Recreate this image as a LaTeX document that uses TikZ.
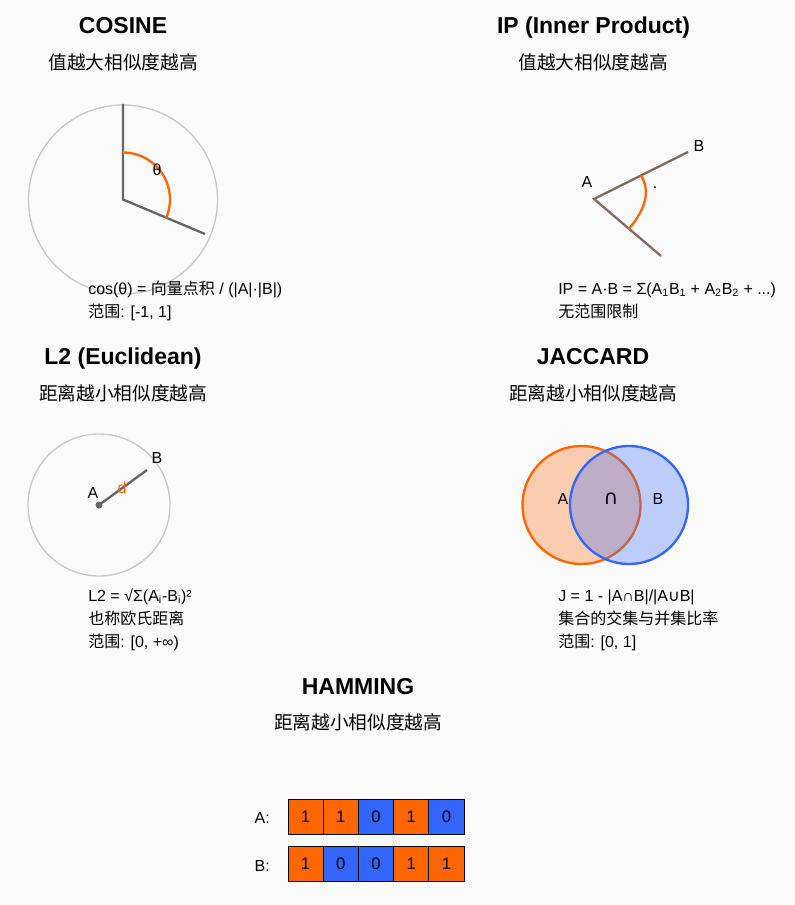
\documentclass[tikz,border=0pt]{standalone}
\usepackage{fontspec}
\setmainfont{Liberation Sans}
\newfontfamily\cjk{Noto Sans CJK SC}
\newfontfamily\symf{DejaVu Sans}
\definecolor{bgc}{RGB}{250,250,250}
\definecolor{orng}{RGB}{255,102,0}
\definecolor{blu}{RGB}{51,102,255}
\definecolor{vecgray}{RGB}{102,102,102}
\definecolor{ipvec}{RGB}{128,110,100}
\definecolor{ringgray}{RGB}{200,200,200}
\begin{document}
\begin{tikzpicture}[x=0.75pt,y=-0.75pt,every node/.style={inner sep=0pt},
	title/.style={font=\fontsize{17.25}{20}\selectfont\bfseries,anchor=base},
	subtitle/.style={font=\fontsize{14}{16}\cjk,anchor=base},
	body/.style={font=\fontsize{12}{14}\selectfont,anchor=base west},
	lbl/.style={font=\fontsize{12}{14}\selectfont},
	ring/.style={draw=ringgray,line width=1pt},
	vec/.style={draw=vecgray,line width=1.75pt},
	ang/.style={draw=orng,line width=1.75pt},
	cell/.style={draw=black,line width=0.6pt,minimum width=26.4pt,minimum height=26.25pt,font=\fontsize{12.5}{14}\selectfont}]
	\fill[bgc] (0,0) rectangle (794,905);
	\useasboundingbox (0,0) rectangle (794,905);
	% COSINE
	\node[title] (cosT) at (123,34){COSINE};
	\node[subtitle] (cosS) at (123,70){值越大相似度越高};
	\coordinate (cosO) at (123,199.5);
	\coordinate (cosA) at (123,104);
	\coordinate (cosB) at (205,234);
	\coordinate (cosArc) at (123,152.5);
	\draw[ring] (cosO) circle[radius=94.5];
	\draw[vec] (cosA)--(cosO)--(cosB);
	\draw[ang] (cosArc) arc[start angle=-90,end angle=23.1,radius=47];
	\node[lbl] (theta) at (157,170){θ};
	\node[body] (cosF1) at (88,294){cos(θ) = {\cjk 向量点积} / (|A|·|B|)};
	\node[body] (cosF2) at (88,317){{\cjk 范围}: [-1, 1]};
	% IP
	\node[title] (ipT) at (593.5,34){IP (Inner Product)};
	\node[subtitle] (ipS) at (593,70){值越大相似度越高};
	\coordinate (ipO) at (594,199);
	\coordinate (ipB) at (688,152);
	\coordinate (ipC) at (661,256);
	\coordinate (ipArcS) at (641,175.5);
	\coordinate (ipArcE) at (629,228.8);
	\draw[vec,draw=ipvec] (ipB)--(ipO)--(ipC);
	\draw[ang] (ipArcS) .. controls (650.3,190.5) and (646.3,208.3) .. (ipArcE);
	\node[lbl] (ipLA) at (587,182){A};
	\node[lbl] (ipLB) at (699,146){B};
	\node[lbl] (ipDot) at (655,188){.};
	\node[body] (ipF1) at (558,294){IP = A·B = Σ(A\textsubscript{1}B\textsubscript{1} + A\textsubscript{2}B\textsubscript{2} + ...)};
	\node[body] (ipF2) at (558,317){\cjk 无范围限制};
	% L2
	\node[title] (l2T) at (123,364){L2 (Euclidean)};
	\node[subtitle] (l2S) at (123,400){距离越小相似度越高};
	\coordinate (l2O) at (99,505);
	\coordinate (l2B) at (147,470);
	\draw[ring] (l2O) circle[radius=71];
	\draw[vec] (l2O)--(l2B);
	\fill[vecgray] (l2O) circle[radius=3.5];
	\node[lbl] (l2LA) at (93,493){A};
	\node[lbl] (l2LB) at (157,458){B};
	\node[lbl,text=orng] (l2d) at (122,488){d};
	\node[body] (l2F1) at (88,601){L2 = √Σ(A\textsubscript{i}-B\textsubscript{i})²};
	\node[body] (l2F2) at (88,624){\cjk 也称欧氏距离};
	\node[body] (l2F3) at (88,647){{\cjk 范围}: [0, +∞)};
	% JACCARD
	\node[title] (jacT) at (593,364){JACCARD};
	\node[subtitle] (jacS) at (593,400){距离越小相似度越高};
	\coordinate (jacA) at (581.5,505);
	\coordinate (jacB) at (629,505);
	\draw[orng,fill=orng,fill opacity=0.3,line width=1.75pt] (jacA) circle[radius=59];
	\draw[blu,fill=blu,fill opacity=0.3,line width=1.75pt] (jacB) circle[radius=59];
	\node[lbl] (jacLA) at (563,499){A};
	\node[lbl,font=\fontsize{15}{16}\symf] (jacLI) at (611,499){∩};
	\node[lbl] (jacLB) at (658,499){B};
	\node[body] (jacF1) at (558,601){J = 1 - |A∩B|/|A{\symf ∪}B|};
	\node[body] (jacF2) at (558,624){\cjk 集合的交集与并集比率};
	\node[body] (jacF3) at (558,647){{\cjk 范围}: [0, 1]};
	% HAMMING
	\node[title] (hamT) at (358,694){HAMMING};
	\node[subtitle] (hamS) at (358,729){距离越小相似度越高};
	\node[lbl,anchor=base east] (hamLA) at (270,823){A:};
	\node[lbl,anchor=base east] (hamLB) at (270,871){B:};
	\foreach \v/\c [count=\i] in {1/orng,1/orng,0/blu,1/orng,0/blu}
		\node[cell,fill=\c] (a\i) at ({288+35.2*(\i-0.5)},816.5){\v};
	\foreach \v/\c [count=\i] in {1/orng,0/blu,0/blu,1/orng,1/orng}
		\node[cell,fill=\c] (b\i) at ({288+35.2*(\i-0.5)},864){\v};
\end{tikzpicture}
\end{document}
